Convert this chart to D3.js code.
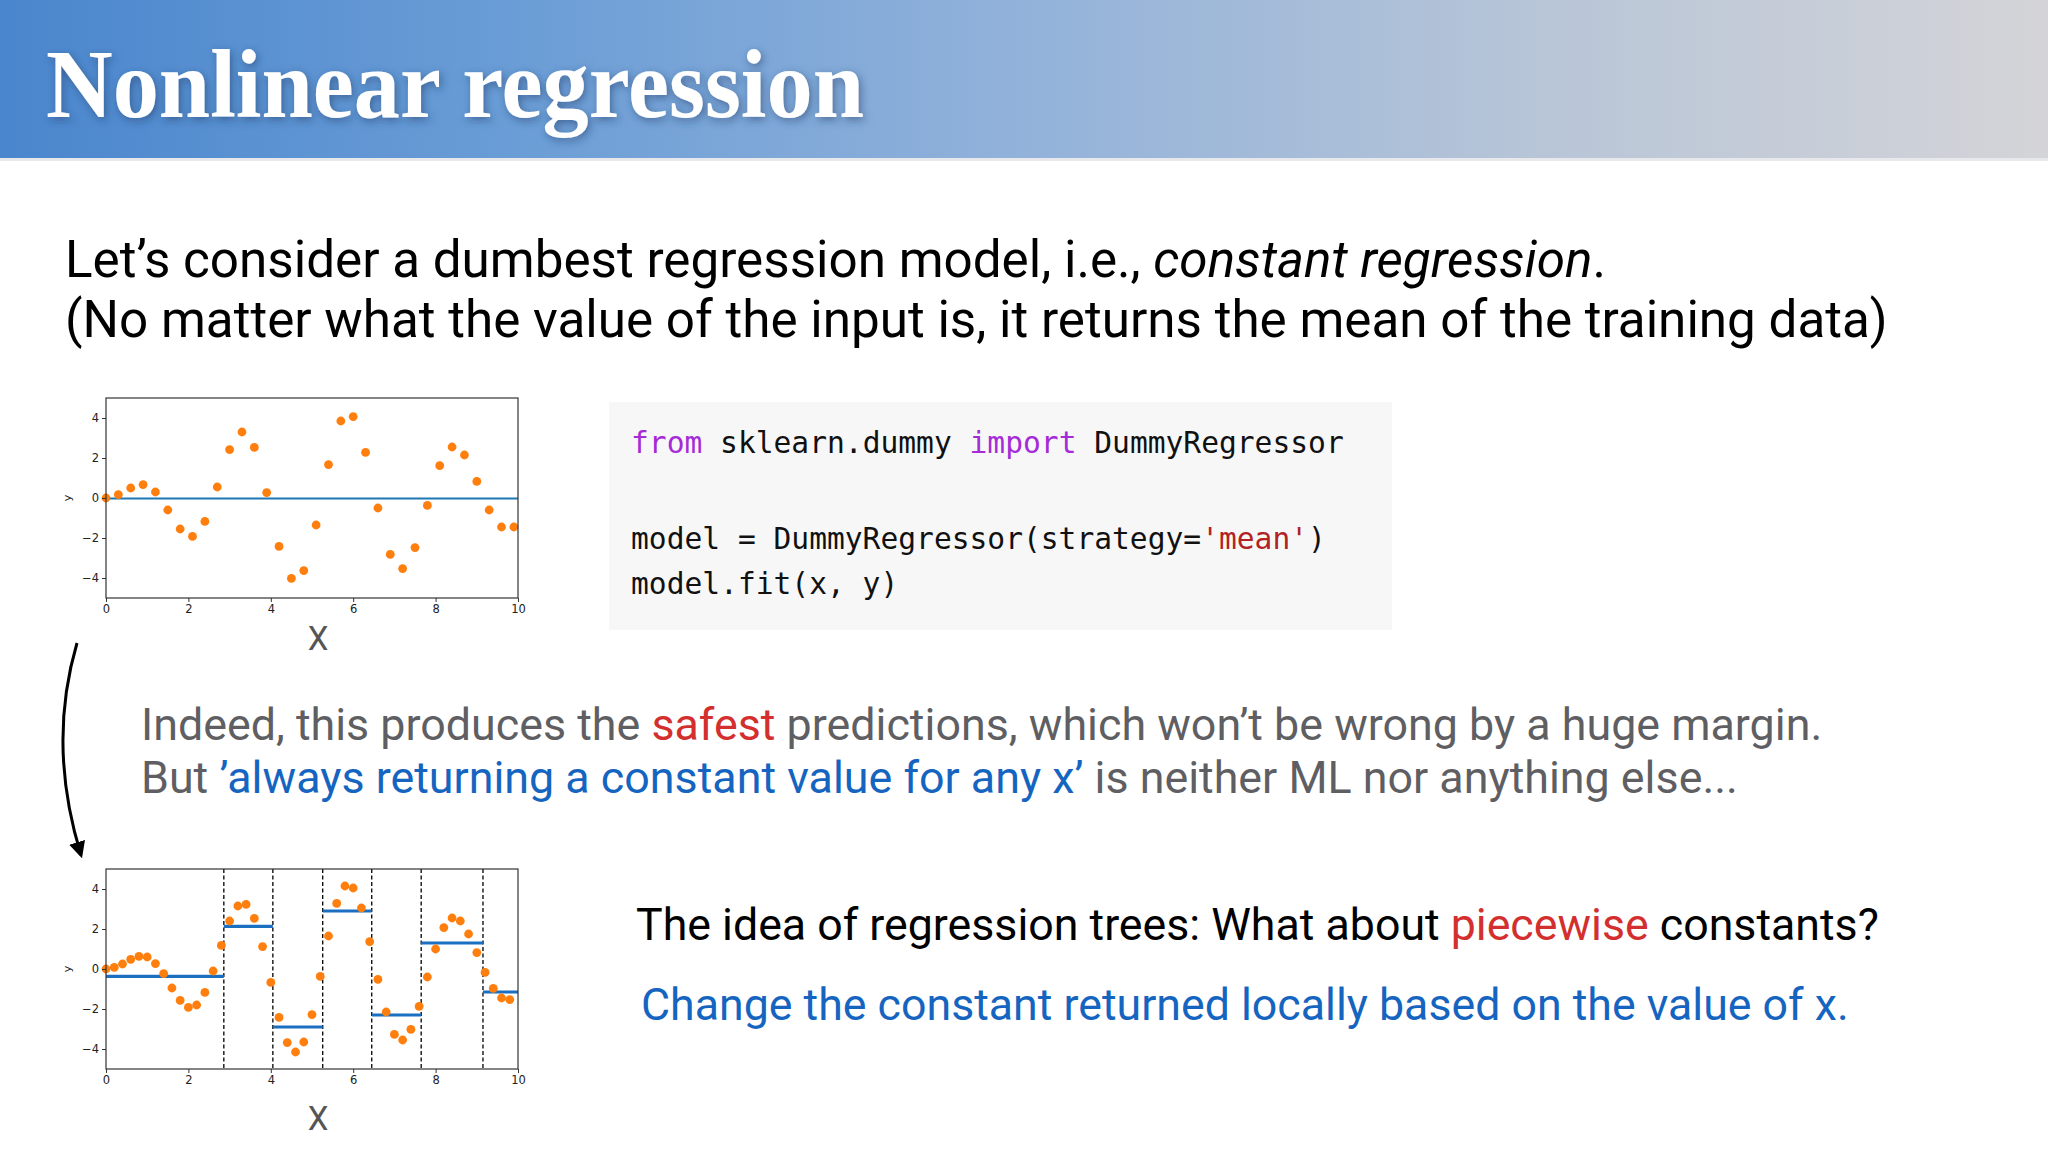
<!DOCTYPE html>
<html>
<head>
<meta charset="utf-8">
<script src="https://cdn.jsdelivr.net/npm/d3@7"></script>
<style>
  body { margin: 0; background: #fff; }
  svg { display: block; }
</style>
</head>
<body>
<div id="slide"></div>
<script>
// top chart: raw data + mean model
var xTop = [0, 0.3, 0.6, 0.9, 1.2, 1.5, 1.8, 2.1, 2.4, 2.7, 3.0, 3.3, 3.6, 3.9, 4.2, 4.5, 4.8,
            5.1, 5.4, 5.7, 6.0, 6.3, 6.6, 6.9, 7.2, 7.5, 7.8, 8.1, 8.4, 8.7, 9.0, 9.3, 9.6, 9.9];
var yTop = [0, 0.17, 0.5, 0.67, 0.3, -0.6, -1.55, -1.92, -1.17, 0.55, 2.42, 3.3, 2.53, 0.27, -2.42, -4.02, -3.63,
            -1.35, 1.67, 3.85, 4.07, 2.28, -0.5, -2.82, -3.53, -2.48, -0.37, 1.62, 2.55, 2.15, 0.83, -0.6, -1.45, -1.45];
var meanY = -0.03;

// bottom chart: denser data + piecewise constants
var xBot = [0, 0.2, 0.4, 0.6, 0.8, 1.0, 1.2, 1.4, 1.6, 1.8, 2.0, 2.2, 2.4, 2.6, 2.8, 3.0, 3.2, 3.4, 3.6, 3.8,
            4.0, 4.2, 4.4, 4.6, 4.8, 5.0, 5.2, 5.4, 5.6, 5.8, 6.0, 6.2, 6.4, 6.6, 6.8, 7.0, 7.2, 7.4, 7.6, 7.8,
            8.0, 8.2, 8.4, 8.6, 8.8, 9.0, 9.2, 9.4, 9.6, 9.8];
var yBot = [0, 0.08, 0.25, 0.48, 0.63, 0.6, 0.27, -0.23, -0.95, -1.57, -1.92, -1.8, -1.17, -0.1, 1.18, 2.4, 3.15, 3.23, 2.53, 1.12,
            -0.67, -2.42, -3.68, -4.15, -3.65, -2.28, -0.37, 1.65, 3.28, 4.15, 4.05, 3.05, 1.37, -0.52, -2.15, -3.27, -3.55, -3.02, -1.87, -0.4,
            1.0, 2.07, 2.55, 2.4, 1.75, 0.82, -0.17, -0.97, -1.45, -1.53];
var splits = [2.86, 4.05, 5.26, 6.45, 7.65, 9.15];
var levels = [-0.37, 2.13, -2.9, 2.9, -2.3, 1.3, -1.15];

var xTicks = [0, 2, 4, 6, 8, 10];
var yTicks = [-4, -2, 0, 2, 4];

var W = 2048, H = 1152;
var svg = d3.select("#slide").append("svg").attr("width", W).attr("height", H);

// header banner
var defs = svg.append("defs");
var grad = defs.append("linearGradient").attr("id", "hdr");
[["0%", "#4a86cd"], ["25%", "#6a9dd6"], ["50%", "#92b2da"], ["75%", "#b7c5d7"], ["100%", "#d4d4d8"]]
  .forEach(function(s){ grad.append("stop").attr("offset", s[0]).attr("stop-color", s[1]); });
var shadow = defs.append("filter").attr("id", "tshadow").attr("x", "-5%").attr("y", "-20%").attr("width", "110%").attr("height", "140%");
shadow.append("feDropShadow").attr("dx", 2).attr("dy", 3).attr("stdDeviation", 4).attr("flood-color", "#1d3a66").attr("flood-opacity", 0.55);

svg.append("rect").attr("width", W).attr("height", 158).attr("fill", "url(#hdr)");
svg.append("rect").attr("y", 158).attr("width", W).attr("height", 3).attr("fill", "#e6e8ec");
svg.append("text")
  .attr("x", 46).attr("y", 117)
  .attr("font-family", "Liberation Serif, DejaVu Serif, serif")
  .attr("font-weight", "bold").attr("font-size", 98)
  .attr("textLength", 818).attr("lengthAdjust", "spacingAndGlyphs")
  .attr("fill", "#fff").attr("filter", "url(#tshadow)")
  .text("Nonlinear regression");

// body text
function line(x, y, size, parts) {
  var t = svg.append("text").attr("x", x).attr("y", y)
    .attr("font-family", "Roboto, sans-serif").attr("font-size", size);
  parts.forEach(function(p){
    var s = t.append("tspan").text(p[0]).attr("fill", p[1] || "#000");
    if (p[2]) s.attr("font-style", p[2]);
  });
  return t;
}
line(65, 277, 51.2, [["Let’s consider a dumbest regression model, i.e., "], ["constant regression", "#000", "italic"], ["."]]);
line(65, 337, 51.2, [["(No matter what the value of the input is, it returns the mean of the training data)"]]);

var grey = "#5f5f63", red = "#d32f2f", blue = "#1565c0";
line(141, 740, 44.8, [["Indeed, this produces the ", grey], ["safest", red], [" predictions, which won’t be wrong by a huge margin.", grey]]);
line(141, 793, 44.8, [["But ", grey], ["’always returning a constant value for any x’", blue], [" is neither ML nor anything else...", grey]]);

line(636, 940, 44.7, [["The idea of regression trees: What about "], ["piecewise", red], [" constants?"]]);
line(641, 1020, 44.7, [["Change the constant returned locally based on the value of x.", blue]]);

// code block
svg.append("rect").attr("x", 609).attr("y", 402).attr("width", 783).attr("height", 228).attr("fill", "#f7f7f8");
var purple = "#a52bd6", str = "#b22222";
function code(y, parts) {
  var t = svg.append("text").attr("x", 631).attr("y", y)
    .attr("font-family", "DejaVu Sans Mono, monospace").attr("font-size", 29.6)
    .attr("xml:space", "preserve");
  parts.forEach(function(p){ t.append("tspan").text(p[0]).attr("fill", p[1] || "#111"); });
}
code(453, [["from", purple], [" sklearn.dummy "], ["import", purple], [" DummyRegressor"]]);
code(549, [["model = DummyRegressor(strategy="], ["'mean'", str], [")"]]);
code(594, [["model.fit(x, y)"]]);

// curved arrow between the plots
defs.append("marker").attr("id", "arrow").attr("viewBox", "0 0 10 10")
  .attr("refX", 8).attr("refY", 5).attr("markerWidth", 5.5).attr("markerHeight", 5.5)
  .attr("orient", "auto-start-reverse").attr("markerUnits", "strokeWidth")
  .append("path").attr("d", "M0,0 L10,5 L0,10 z").attr("fill", "#000");
svg.append("path")
  .attr("d", "M77,643 Q47,745 81,855")
  .attr("fill", "none").attr("stroke", "#000").attr("stroke-width", 3)
  .attr("marker-end", "url(#arrow)");

// plots
function plot(top, xs, ys, drawModel) {
  var x = d3.scaleLinear().domain([0, 10]).range([106, 518]);
  var y = d3.scaleLinear().domain([-5, 5]).range([top + 200, top]);
  var g = svg.append("g");

  drawModel(g, x, y);

  g.selectAll("circle.pt").data(xs).enter().append("circle")
    .attr("class", "pt")
    .attr("cx", function(d){ return x(d); })
    .attr("cy", function(d, i){ return y(ys[i]); })
    .attr("r", 4.4).attr("fill", "#ff7f0e");

  g.append("rect").attr("x", 106).attr("y", top).attr("width", 412).attr("height", 200)
    .attr("fill", "none").attr("stroke", "#333").attr("stroke-width", 1.2);

  var ax = g.append("g").attr("transform", "translate(0," + (top + 200) + ")")
    .call(d3.axisBottom(x).tickValues(xTicks).tickSize(4).tickPadding(3).tickFormat(d3.format("d")));
  var ay = g.append("g").attr("transform", "translate(106,0)")
    .call(d3.axisLeft(y).tickValues(yTicks).tickSize(4).tickPadding(3)
      .tickFormat(function(d){ return d < 0 ? "−" + Math.abs(d) : d; }));
  [ax, ay].forEach(function(a){
    a.select(".domain").remove();
    a.selectAll("text").attr("font-family", "DejaVu Sans, sans-serif").attr("font-size", 11.5).attr("fill", "#222");
    a.selectAll("line").attr("stroke", "#333");
  });

  g.append("text").attr("transform", "translate(71," + (top + 100) + ") rotate(-90)")
    .attr("text-anchor", "middle").attr("font-family", "DejaVu Sans, sans-serif")
    .attr("font-size", 11).attr("fill", "#222").text("y");
  return g;
}

plot(398, xTop, yTop, function(g, x, y){
  g.append("line").attr("x1", x(0)).attr("x2", x(10))
    .attr("y1", y(meanY)).attr("y2", y(meanY))
    .attr("stroke", "#1f77b4").attr("stroke-width", 2);
});

var bounds = [0].concat(splits, [10]);
plot(869, xBot, yBot, function(g, x, y){
  g.selectAll("line.split").data(splits).enter().append("line")
    .attr("class", "split")
    .attr("x1", function(d){ return x(d); }).attr("x2", function(d){ return x(d); })
    .attr("y1", y(5)).attr("y2", y(-5))
    .attr("stroke", "#000").attr("stroke-width", 1.3).attr("stroke-dasharray", "4,2.5");
  g.selectAll("line.level").data(levels).enter().append("line")
    .attr("class", "level")
    .attr("x1", function(d, i){ return x(bounds[i]); })
    .attr("x2", function(d, i){ return x(bounds[i + 1]); })
    .attr("y1", function(d){ return y(d); }).attr("y2", function(d){ return y(d); })
    .attr("stroke", "#1a6fc0").attr("stroke-width", 3.2);
});

// big X axis captions
[650, 1130].forEach(function(b){
  svg.append("text").attr("x", 318).attr("y", b).attr("text-anchor", "middle")
    .attr("font-family", "Roboto, sans-serif").attr("font-size", 33).attr("fill", "#555")
    .text("X");
});
</script>
</body>
</html>
